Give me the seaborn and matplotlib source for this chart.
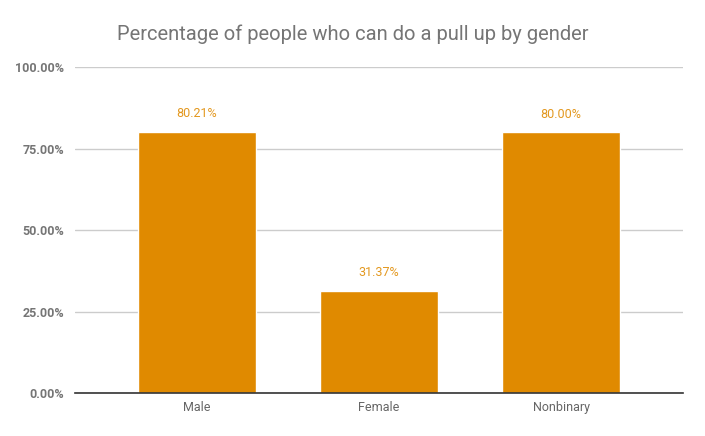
import numpy as np
import pandas as pd
import matplotlib
matplotlib.use('Agg')
import matplotlib.pyplot as plt
import seaborn as sns

# data
genders = ['Male', 'Female', 'Nonbinary']
pct_pullup = [80.21, 31.37, 80.00]
y_ticks = [0, 25, 50, 75, 100]

df = pd.DataFrame({'gender': genders, 'pct': pct_pullup})

sns.set_theme(style='white')
plt.rcParams['font.family'] = ['Roboto', 'DejaVu Sans']

fig = plt.figure(figsize=(7.05, 4.36), dpi=100)
ax = fig.add_axes([0.1064, 0.0986, 0.8624, 0.7477])

sns.barplot(data=df, x='gender', y='pct', color='#E08A00', saturation=1,
            width=0.648, ax=ax)

for i, v in enumerate(pct_pullup):
    ax.text(i, v + 5.5, f'{v:.2f}%', ha='center', va='center',
            fontsize=9, color='#E3981F')

ax.set_ylim(0, 100)
ax.set_xlim(-0.67, 2.67)
ax.set_yticks(y_ticks)
ax.set_yticklabels([f'{t:.2f}%' for t in y_ticks], fontsize=9,
                   fontweight='bold', color='#757575')
ax.tick_params(axis='x', labelsize=9, labelcolor='#666666', length=0, pad=6)
ax.tick_params(axis='y', length=0, pad=8)
ax.set_xlabel('')
ax.set_ylabel('')

ax.yaxis.grid(True, color='#CCCCCC', linewidth=1)
ax.set_axisbelow(True)
for s in ['top', 'right', 'left']:
    ax.spines[s].set_visible(False)
ax.spines['bottom'].set_color('#333333')
ax.spines['bottom'].set_linewidth(1.2)
ax.spines['bottom'].set_zorder(5)

fig.text(0.5, 0.922, 'Percentage of people who can do a pull up by gender',
         ha='center', va='center', fontsize=14.5, color='#757575')

fig.savefig('out.png', dpi=100)
